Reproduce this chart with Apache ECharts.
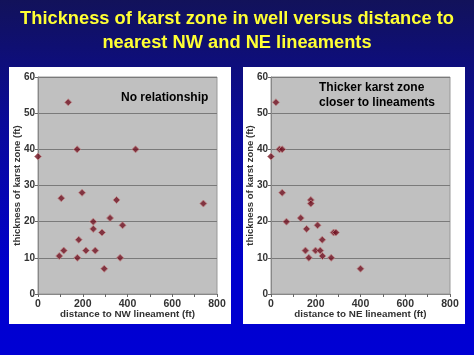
<!DOCTYPE html>
<html><head><meta charset="utf-8">
<script src="https://cdn.jsdelivr.net/npm/echarts@6/dist/echarts.min.js"></script>
<style>html,body{margin:0;padding:0;}#c{width:474px;height:355px;}</style>
</head><body><div id="c"></div>
<script>
const titleLines = ["Thickness of karst zone in well versus distance to", "nearest NW and NE lineaments"];
const leftNote = "No relationship";
const rightNote = ["Thicker karst zone", "closer to lineaments"];
const yAxisName = "thickness of karst zone (ft)";
const xNameNW = "distance to NW lineament (ft)";
const xNameNE = "distance to NE lineament (ft)";

const nwDist = [0, 135, 175, 436, 104, 197, 351, 739, 247, 322, 378, 247, 286, 182, 115, 214, 256, 95, 176, 367, 296];
const nwThick = [38, 53, 40, 40, 26.5, 28, 26, 25, 20, 21, 19, 18, 17, 15, 12, 12, 12, 10.5, 10, 10, 7];
const neDist = [0, 22, 38, 50, 50, 178, 178, 69, 133, 208, 159, 280, 290, 229, 154, 199, 220, 169, 230, 269, 400];
const neThick = [38, 53, 40, 40, 28, 26, 25, 20, 21, 19, 18, 17, 17, 15, 12, 12, 12, 10, 10.5, 10, 7];

const pairs = (xs, ys) => xs.map((x, i) => [x, ys[i]]);
const chart = echarts.init(document.getElementById('c'));
const font = 'Liberation Sans, Arial, sans-serif';

function xAxis(idx, name) {
  return {
    type: 'value', gridIndex: idx, min: 0, max: 800, interval: 100,
    name: name, nameLocation: 'middle', nameGap: 15, nameMoveOverlap: false,
    nameTextStyle: {fontFamily: font, fontWeight: 'bold', fontSize: 9.8, color: '#333'},
    axisLine: {show: true, lineStyle: {color: '#888'}},
    axisTick: {show: true, inside: false, length: 3, lineStyle: {color: '#666'}},
    axisLabel: {fontFamily: font, fontWeight: 'bold', fontSize: 10.5, color: '#333', margin: 5,
      formatter: v => (v % 200 === 0 ? String(v) : '')},
    splitLine: {show: false}
  };
}
function yAxis(idx) {
  return {
    type: 'value', gridIndex: idx, min: 0, max: 60, interval: 10,
    name: yAxisName, nameLocation: 'middle', nameGap: 16, nameMoveOverlap: false,
    nameTextStyle: {fontFamily: font, fontWeight: 'bold', fontSize: 9.5, color: '#333'},
    axisLine: {show: true, lineStyle: {color: '#888'}},
    axisTick: {show: true, length: 3, lineStyle: {color: '#666'}},
    axisLabel: {fontFamily: font, fontWeight: 'bold', fontSize: 10, color: '#333', margin: 3,
      formatter: v => (v % 10 === 0 ? String(v) : '')},
    splitLine: {show: true, lineStyle: {color: '#7a7a7a', width: 1}}
  };
}
function series(idx, data) {
  return {
    type: 'scatter', xAxisIndex: idx, yAxisIndex: idx, data: data,
    symbol: 'diamond', symbolSize: 7,
    itemStyle: {color: '#701020', borderColor: '#c08888', borderWidth: 1},
    z: 5
  };
}

chart.setOption({
  backgroundColor: {type: 'linear', x: 0, y: 0, x2: 0, y2: 1, colorStops: [
    {offset: 0, color: '#12125a'}, {offset: 0.35, color: '#0a0a9a'}, {offset: 0.75, color: '#0000cc'}, {offset: 1, color: '#0000d4'}]},
  animation: false,
  graphic: [
    {type: 'rect', shape: {x: 9, y: 67, width: 222, height: 257}, style: {fill: '#ffffff'}, z: -10},
    {type: 'rect', shape: {x: 243, y: 67, width: 222, height: 257}, style: {fill: '#ffffff'}, z: -10},
    {type: 'text', left: 'center', top: 10, style: {text: titleLines[0], fill: '#ffff33', font: 'bold 18.3px ' + font}},
    {type: 'text', left: 'center', top: 34, style: {text: titleLines[1], fill: '#ffff33', font: 'bold 18.3px ' + font}},
    {type: 'text', left: 121, top: 92, style: {text: leftNote, fill: '#000', font: 'bold 12px ' + font}, z: 10},
    {type: 'text', left: 319, top: 82, style: {text: rightNote[0], fill: '#000', font: 'bold 12px ' + font}, z: 10},
    {type: 'text', left: 319, top: 97, style: {text: rightNote[1], fill: '#000', font: 'bold 12px ' + font}, z: 10}
  ],
  grid: [
    {left: 38, right: 257, top: 77, bottom: 61, show: true, backgroundColor: '#c0c0c0', borderColor: '#999', borderWidth: 1},
    {left: 271, right: 24, top: 77, bottom: 61, show: true, backgroundColor: '#c0c0c0', borderColor: '#999', borderWidth: 1}
  ],
  xAxis: [xAxis(0, xNameNW), xAxis(1, xNameNE)],
  yAxis: [yAxis(0), yAxis(1)],
  series: [series(0, pairs(nwDist, nwThick)), series(1, pairs(neDist, neThick))]
});
</script></body></html>
